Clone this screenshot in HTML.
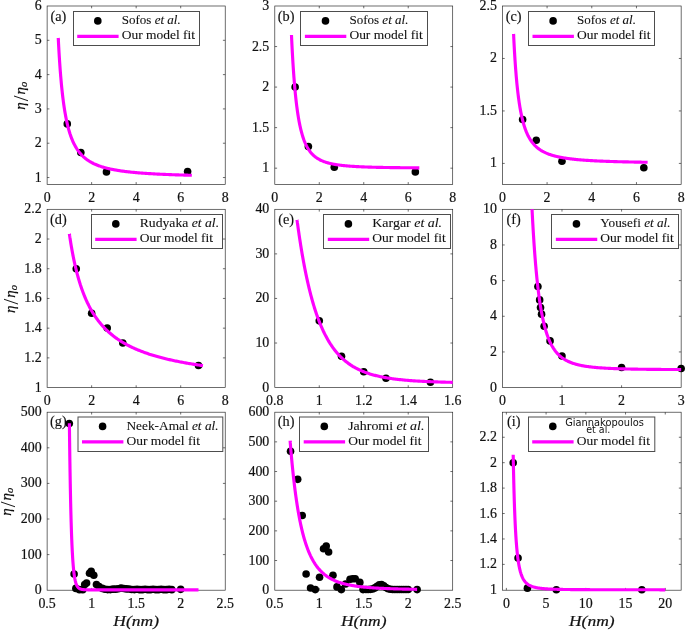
<!DOCTYPE html>
<html lang="en">
<head>
<meta charset="utf-8">
<title>Viscosity ratio versus channel height: data and model fits</title>
<style>
html,body{margin:0;padding:0;background:#fff;}
svg{display:block;}
text{white-space:pre;}
</style>
</head>
<body>
<svg width="685" height="630" viewBox="0 0 685 630">
<rect width="685" height="630" fill="#fff"/>
<g id="panel-a">
<rect x="47.12" y="6" width="178.1" height="178.4" fill="#fff" stroke="#262626" stroke-width="0.67"/>
<path d="M91.64 184.4v-2.3M91.64 6v2.3M136.17 184.4v-2.3M136.17 6v2.3M180.69 184.4v-2.3M180.69 6v2.3M47.12 177.54h2.3M225.22 177.54h-2.3M47.12 143.23h2.3M225.22 143.23h-2.3M47.12 108.92h2.3M225.22 108.92h-2.3M47.12 74.62h2.3M225.22 74.62h-2.3M47.12 40.31h2.3M225.22 40.31h-2.3" stroke="#262626" stroke-width="0.67" fill="none"/>
<g font-family='"Liberation Serif", serif' font-size="13.9" fill="#111" stroke="#111" stroke-width="0.2">
<g text-anchor="middle">
<text x="47.12" y="202">0</text>
<text x="91.64" y="202">2</text>
<text x="136.17" y="202">4</text>
<text x="180.69" y="202">6</text>
<text x="225.22" y="202">8</text>
</g><g text-anchor="end">
<text x="41.62" y="181.54">1</text>
<text x="41.62" y="147.23">2</text>
<text x="41.62" y="112.92">3</text>
<text x="41.62" y="78.62">4</text>
<text x="41.62" y="44.31">5</text>
<text x="41.62" y="10">6</text>
</g></g>
<text x="58.42" y="20.5" text-anchor="middle" font-family='"Liberation Serif", serif' font-size="14.3" fill="#111" stroke="#111" stroke-width="0.15">(a)</text>
<g fill="#000">
<circle cx="67.27" cy="123.92" r="3.8"/>
<circle cx="80.83" cy="152.56" r="3.8"/>
<circle cx="106.47" cy="171.88" r="3.8"/>
<circle cx="187.6" cy="171.57" r="3.8"/>
</g>
<path d="M58.25 37.94 L58.25 37.95 L58.25 38 L58.26 38.09 L58.26 38.22 L58.27 38.39 L58.28 38.61 L58.3 38.88 L58.31 39.2 L58.33 39.57 L58.35 39.99 L58.38 40.47 L58.41 40.99 L58.43 41.57 L58.47 42.19 L58.5 42.87 L58.54 43.6 L58.58 44.37 L58.63 45.2 L58.67 46.07 L58.72 46.99 L58.78 47.96 L58.83 48.97 L58.89 50.02 L58.96 51.11 L59.02 52.25 L59.09 53.42 L59.17 54.62 L59.24 55.87 L59.32 57.14 L59.41 58.45 L59.49 59.79 L59.58 61.15 L59.68 62.54 L59.77 63.95 L59.87 65.38 L59.98 66.83 L60.08 68.3 L60.19 69.79 L60.31 71.29 L60.43 72.8 L60.55 74.32 L60.67 75.84 L60.8 77.38 L60.93 78.92 L61.07 80.46 L61.21 82 L61.35 83.55 L61.5 85.09 L61.65 86.63 L61.8 88.16 L61.96 89.69 L62.12 91.21 L62.29 92.73 L62.46 94.23 L62.63 95.72 L62.81 97.21 L62.99 98.68 L63.18 100.13 L63.36 101.58 L63.56 103 L63.75 104.42 L63.95 105.81 L64.16 107.19 L64.37 108.55 L64.58 109.9 L64.79 111.23 L65.01 112.53 L65.24 113.82 L65.47 115.09 L65.7 116.34 L65.93 117.58 L66.17 118.79 L66.42 119.98 L66.67 121.15 L66.92 122.3 L67.18 123.44 L67.44 124.55 L67.7 125.64 L67.97 126.71 L68.24 127.76 L68.52 128.8 L68.8 129.81 L69.08 130.8 L69.37 131.78 L69.67 132.73 L69.96 133.67 L70.27 134.58 L70.57 135.48 L70.88 136.36 L71.2 137.23 L71.52 138.07 L71.84 138.9 L72.17 139.71 L72.5 140.5 L72.83 141.27 L73.17 142.03 L73.52 142.77 L73.86 143.5 L74.22 144.21 L74.57 144.9 L74.93 145.58 L75.3 146.25 L75.67 146.9 L76.04 147.53 L76.42 148.16 L76.81 148.76 L77.19 149.36 L77.58 149.94 L77.98 150.51 L78.38 151.06 L78.79 151.61 L79.2 152.14 L79.61 152.65 L80.03 153.16 L80.45 153.66 L80.88 154.14 L81.31 154.61 L81.74 155.08 L82.18 155.53 L82.63 155.97 L83.08 156.4 L83.53 156.83 L83.99 157.24 L84.45 157.64 L84.92 158.04 L85.39 158.42 L85.87 158.8 L86.35 159.17 L86.83 159.53 L87.32 159.88 L87.82 160.22 L88.32 160.56 L88.82 160.89 L89.33 161.21 L89.84 161.52 L90.36 161.83 L90.88 162.13 L91.4 162.43 L91.93 162.71 L92.47 162.99 L93.01 163.27 L93.55 163.54 L94.1 163.8 L94.66 164.06 L95.22 164.31 L95.78 164.55 L96.35 164.79 L96.92 165.03 L97.5 165.26 L98.08 165.48 L98.67 165.7 L99.26 165.92 L99.85 166.13 L100.45 166.33 L101.06 166.54 L101.67 166.73 L102.28 166.93 L102.9 167.12 L103.53 167.3 L104.15 167.48 L104.79 167.66 L105.43 167.83 L106.07 168 L106.72 168.17 L107.37 168.33 L108.03 168.49 L108.69 168.65 L109.36 168.8 L110.03 168.95 L110.7 169.1 L111.39 169.24 L112.07 169.38 L112.76 169.52 L113.46 169.65 L114.16 169.79 L114.86 169.92 L115.57 170.04 L116.29 170.17 L117.01 170.29 L117.73 170.41 L118.46 170.53 L119.2 170.64 L119.94 170.75 L120.68 170.86 L121.43 170.97 L122.18 171.08 L122.94 171.18 L123.7 171.28 L124.47 171.38 L125.25 171.48 L126.02 171.58 L126.81 171.67 L127.6 171.76 L128.39 171.85 L129.19 171.94 L129.99 172.03 L130.8 172.11 L131.61 172.2 L132.43 172.28 L133.25 172.36 L134.08 172.44 L134.91 172.52 L135.75 172.59 L136.59 172.67 L137.44 172.74 L138.29 172.81 L139.15 172.88 L140.01 172.95 L140.88 173.02 L141.75 173.09 L142.62 173.15 L143.51 173.22 L144.39 173.28 L145.29 173.34 L146.18 173.4 L147.09 173.46 L147.99 173.52 L148.91 173.58 L149.82 173.64 L150.75 173.69 L151.67 173.75 L152.61 173.8 L153.54 173.85 L154.49 173.91 L155.43 173.96 L156.39 174.01 L157.34 174.06 L158.31 174.11 L159.27 174.15 L160.25 174.2 L161.23 174.25 L162.21 174.29 L163.2 174.34 L164.19 174.38 L165.19 174.42 L166.19 174.46 L167.2 174.51 L168.22 174.55 L169.23 174.59 L170.26 174.63 L171.29 174.66 L172.32 174.7 L173.36 174.74 L174.41 174.78 L175.46 174.81 L176.51 174.85 L177.57 174.88 L178.64 174.92 L179.71 174.95 L180.78 174.99 L181.86 175.02 L182.95 175.05 L184.04 175.08 L185.14 175.11 L186.24 175.15 L187.35 175.18 L188.46 175.21 L189.58 175.23 L190.7 175.26 L191.83 175.29" fill="none" stroke="#ff00ff" stroke-width="3.15" stroke-linejoin="round"/>
<rect x="73.5" y="11.5" width="126" height="34" fill="#fff" stroke="#4d4d4d" stroke-width="1"/>
<circle cx="97.8" cy="20.9" r="3.8" fill="#000"/>
<path d="M77.2 36.4h41.4" stroke="#ff00ff" stroke-width="3.15" fill="none"/>
<text x="121.7" y="24.1" font-family='"Liberation Serif", serif' font-size="13.3" fill="#111" stroke="#111" stroke-width="0.1" textLength="59" lengthAdjust="spacingAndGlyphs">Sofos <tspan font-style="italic">et al.</tspan></text>
<text x="121.7" y="39.1" font-family='"Liberation Serif", serif' font-size="13.3" fill="#111" stroke="#111" stroke-width="0.1" textLength="73.4" lengthAdjust="spacingAndGlyphs">Our model fit</text>
<g transform="translate(24.82 109.8) rotate(-90)" font-family='"Liberation Serif", serif' font-style="italic" fill="#111" stroke="#111" stroke-width="0.2"><text x="0" y="0" font-size="15.0">η</text><text x="8.6" y="3.6" font-size="21" font-style="normal" stroke-width="0">/</text><text x="15.2" y="0" font-size="15.0">η</text><text x="22.9" y="2.5" font-size="10.5">o</text></g>
</g>
<g id="panel-b">
<rect x="274.8" y="6" width="177.9" height="178.4" fill="#fff" stroke="#262626" stroke-width="0.67"/>
<path d="M319.28 184.4v-2.3M319.28 6v2.3M363.75 184.4v-2.3M363.75 6v2.3M408.23 184.4v-2.3M408.23 6v2.3M274.8 168.18h2.3M452.7 168.18h-2.3M274.8 127.64h2.3M452.7 127.64h-2.3M274.8 87.09h2.3M452.7 87.09h-2.3M274.8 46.55h2.3M452.7 46.55h-2.3" stroke="#262626" stroke-width="0.67" fill="none"/>
<g font-family='"Liberation Serif", serif' font-size="13.9" fill="#111" stroke="#111" stroke-width="0.2">
<g text-anchor="middle">
<text x="274.8" y="202">0</text>
<text x="319.28" y="202">2</text>
<text x="363.75" y="202">4</text>
<text x="408.23" y="202">6</text>
<text x="452.7" y="202">8</text>
</g><g text-anchor="end">
<text x="269.3" y="172.18">1</text>
<text x="269.3" y="131.64">1.5</text>
<text x="269.3" y="91.09">2</text>
<text x="269.3" y="50.55">2.5</text>
<text x="269.3" y="10">3</text>
</g></g>
<text x="286.1" y="20.5" text-anchor="middle" font-family='"Liberation Serif", serif' font-size="14.3" fill="#111" stroke="#111" stroke-width="0.15">(b)</text>
<g fill="#000">
<circle cx="295.13" cy="86.93" r="3.8"/>
<circle cx="308.38" cy="146.53" r="3.8"/>
<circle cx="334.29" cy="167.13" r="3.8"/>
<circle cx="415.34" cy="171.91" r="3.8"/>
</g>
<path d="M291.48 35.03 L291.48 35.04 L291.48 35.09 L291.49 35.18 L291.49 35.32 L291.5 35.5 L291.51 35.74 L291.52 36.02 L291.54 36.36 L291.56 36.75 L291.58 37.19 L291.6 37.69 L291.63 38.24 L291.65 38.85 L291.68 39.51 L291.72 40.22 L291.76 40.99 L291.79 41.81 L291.84 42.69 L291.88 43.61 L291.93 44.59 L291.98 45.61 L292.04 46.68 L292.09 47.8 L292.15 48.96 L292.22 50.17 L292.28 51.41 L292.35 52.7 L292.43 54.03 L292.5 55.39 L292.58 56.78 L292.67 58.21 L292.75 59.67 L292.84 61.15 L292.93 62.66 L293.03 64.2 L293.13 65.76 L293.23 67.33 L293.34 68.93 L293.45 70.54 L293.56 72.16 L293.68 73.79 L293.8 75.44 L293.92 77.09 L294.05 78.74 L294.18 80.4 L294.31 82.06 L294.45 83.73 L294.59 85.38 L294.73 87.04 L294.88 88.69 L295.03 90.33 L295.19 91.97 L295.34 93.59 L295.51 95.21 L295.67 96.81 L295.84 98.4 L296.01 99.97 L296.19 101.53 L296.37 103.07 L296.56 104.59 L296.74 106.09 L296.94 107.58 L297.13 109.04 L297.33 110.48 L297.53 111.9 L297.74 113.3 L297.95 114.68 L298.17 116.03 L298.38 117.37 L298.61 118.67 L298.83 119.96 L299.06 121.22 L299.3 122.45 L299.53 123.66 L299.78 124.85 L300.02 126.01 L300.27 127.15 L300.52 128.26 L300.78 129.35 L301.04 130.41 L301.31 131.45 L301.58 132.47 L301.85 133.46 L302.13 134.43 L302.41 135.38 L302.69 136.3 L302.98 137.2 L303.27 138.08 L303.57 138.93 L303.87 139.77 L304.18 140.58 L304.48 141.37 L304.8 142.14 L305.11 142.89 L305.44 143.62 L305.76 144.33 L306.09 145.02 L306.42 145.7 L306.76 146.35 L307.1 146.99 L307.45 147.6 L307.8 148.21 L308.15 148.79 L308.51 149.36 L308.87 149.91 L309.24 150.44 L309.61 150.96 L309.99 151.47 L310.36 151.96 L310.75 152.44 L311.14 152.9 L311.53 153.35 L311.92 153.78 L312.32 154.21 L312.73 154.62 L313.14 155.01 L313.55 155.4 L313.97 155.78 L314.39 156.14 L314.81 156.49 L315.24 156.83 L315.68 157.17 L316.12 157.49 L316.56 157.8 L317.01 158.1 L317.46 158.4 L317.91 158.68 L318.37 158.96 L318.84 159.23 L319.31 159.49 L319.78 159.74 L320.26 159.98 L320.74 160.22 L321.23 160.45 L321.72 160.67 L322.21 160.89 L322.71 161.1 L323.21 161.3 L323.72 161.5 L324.23 161.69 L324.75 161.87 L325.27 162.05 L325.8 162.23 L326.33 162.4 L326.86 162.56 L327.4 162.72 L327.95 162.87 L328.49 163.02 L329.05 163.17 L329.6 163.31 L330.16 163.44 L330.73 163.57 L331.3 163.7 L331.88 163.83 L332.46 163.95 L333.04 164.06 L333.63 164.18 L334.22 164.29 L334.82 164.39 L335.42 164.5 L336.03 164.6 L336.64 164.7 L337.25 164.79 L337.87 164.88 L338.5 164.97 L339.13 165.06 L339.76 165.14 L340.4 165.22 L341.04 165.3 L341.69 165.38 L342.34 165.45 L343 165.53 L343.66 165.6 L344.33 165.67 L345 165.73 L345.67 165.8 L346.35 165.86 L347.03 165.92 L347.72 165.98 L348.42 166.04 L349.12 166.09 L349.82 166.14 L350.53 166.2 L351.24 166.25 L351.96 166.3 L352.68 166.35 L353.4 166.39 L354.13 166.44 L354.87 166.48 L355.61 166.53 L356.35 166.57 L357.1 166.61 L357.86 166.65 L358.62 166.69 L359.38 166.72 L360.15 166.76 L360.92 166.79 L361.7 166.83 L362.48 166.86 L363.27 166.89 L364.06 166.93 L364.86 166.96 L365.66 166.99 L366.47 167.02 L367.28 167.04 L368.09 167.07 L368.91 167.1 L369.74 167.12 L370.57 167.15 L371.41 167.17 L372.25 167.2 L373.09 167.22 L373.94 167.24 L374.79 167.27 L375.65 167.29 L376.52 167.31 L377.38 167.33 L378.26 167.35 L379.14 167.37 L380.02 167.39 L380.91 167.4 L381.8 167.42 L382.7 167.44 L383.6 167.46 L384.51 167.47 L385.42 167.49 L386.34 167.51 L387.26 167.52 L388.18 167.54 L389.11 167.55 L390.05 167.56 L390.99 167.58 L391.94 167.59 L392.89 167.6 L393.85 167.62 L394.81 167.63 L395.77 167.64 L396.74 167.65 L397.72 167.67 L398.7 167.68 L399.68 167.69 L400.67 167.7 L401.67 167.71 L402.67 167.72 L403.67 167.73 L404.68 167.74 L405.7 167.75 L406.72 167.76 L407.74 167.77 L408.77 167.78 L409.81 167.78 L410.85 167.79 L411.89 167.8 L412.94 167.81 L414 167.82 L415.06 167.82 L416.12 167.83 L417.19 167.84 L418.26 167.85 L419.34 167.85" fill="none" stroke="#ff00ff" stroke-width="3.15" stroke-linejoin="round"/>
<rect x="300.5" y="11.5" width="127" height="34" fill="#fff" stroke="#4d4d4d" stroke-width="1"/>
<circle cx="325.5" cy="20.9" r="3.8" fill="#000"/>
<path d="M304.9 36.4h41.4" stroke="#ff00ff" stroke-width="3.15" fill="none"/>
<text x="349.4" y="24.1" font-family='"Liberation Serif", serif' font-size="13.3" fill="#111" stroke="#111" stroke-width="0.1" textLength="59" lengthAdjust="spacingAndGlyphs">Sofos <tspan font-style="italic">et al.</tspan></text>
<text x="349.4" y="39.1" font-family='"Liberation Serif", serif' font-size="13.3" fill="#111" stroke="#111" stroke-width="0.1" textLength="73.4" lengthAdjust="spacingAndGlyphs">Our model fit</text>
</g>
<g id="panel-c">
<rect x="502.4" y="6" width="178.75" height="178.4" fill="#fff" stroke="#262626" stroke-width="0.67"/>
<path d="M547.09 184.4v-2.3M547.09 6v2.3M591.77 184.4v-2.3M591.77 6v2.3M636.46 184.4v-2.3M636.46 6v2.3M502.4 163.41h2.3M681.15 163.41h-2.3M502.4 110.94h2.3M681.15 110.94h-2.3M502.4 58.47h2.3M681.15 58.47h-2.3" stroke="#262626" stroke-width="0.67" fill="none"/>
<g font-family='"Liberation Serif", serif' font-size="13.9" fill="#111" stroke="#111" stroke-width="0.2">
<g text-anchor="middle">
<text x="502.4" y="202">0</text>
<text x="547.09" y="202">2</text>
<text x="591.77" y="202">4</text>
<text x="636.46" y="202">6</text>
<text x="681.15" y="202">8</text>
</g><g text-anchor="end">
<text x="496.9" y="167.41">1</text>
<text x="496.9" y="114.94">1.5</text>
<text x="496.9" y="62.47">2</text>
<text x="496.9" y="10">2.5</text>
</g></g>
<text x="513.7" y="20.5" text-anchor="middle" font-family='"Liberation Serif", serif' font-size="14.3" fill="#111" stroke="#111" stroke-width="0.15">(c)</text>
<g fill="#000">
<circle cx="522.62" cy="119.55" r="3.8"/>
<circle cx="536.23" cy="140.32" r="3.8"/>
<circle cx="561.97" cy="161.31" r="3.8"/>
<circle cx="643.84" cy="167.82" r="3.8"/>
</g>
<path d="M513.57 33.94 L513.57 33.95 L513.57 34 L513.58 34.1 L513.59 34.23 L513.59 34.42 L513.61 34.66 L513.62 34.94 L513.64 35.29 L513.65 35.68 L513.68 36.13 L513.7 36.63 L513.73 37.19 L513.76 37.8 L513.79 38.46 L513.82 39.18 L513.86 39.95 L513.9 40.77 L513.95 41.65 L514 42.57 L514.05 43.54 L514.1 44.56 L514.16 45.62 L514.22 46.73 L514.28 47.88 L514.35 49.07 L514.42 50.3 L514.49 51.56 L514.57 52.86 L514.65 54.2 L514.73 55.56 L514.82 56.95 L514.91 58.36 L515 59.8 L515.1 61.26 L515.2 62.74 L515.3 64.24 L515.41 65.75 L515.52 67.28 L515.64 68.81 L515.75 70.36 L515.88 71.91 L516 73.46 L516.13 75.02 L516.26 76.58 L516.4 78.14 L516.54 79.7 L516.68 81.25 L516.83 82.8 L516.98 84.34 L517.14 85.87 L517.3 87.39 L517.46 88.91 L517.62 90.41 L517.79 91.89 L517.97 93.37 L518.15 94.82 L518.33 96.26 L518.51 97.69 L518.7 99.09 L518.9 100.48 L519.09 101.85 L519.29 103.2 L519.5 104.53 L519.71 105.84 L519.92 107.13 L520.14 108.39 L520.36 109.64 L520.58 110.86 L520.81 112.07 L521.05 113.25 L521.28 114.41 L521.52 115.54 L521.77 116.66 L522.02 117.75 L522.27 118.82 L522.53 119.87 L522.79 120.9 L523.06 121.9 L523.33 122.89 L523.6 123.85 L523.88 124.79 L524.16 125.71 L524.44 126.62 L524.73 127.5 L525.03 128.36 L525.33 129.2 L525.63 130.02 L525.94 130.82 L526.25 131.6 L526.56 132.37 L526.88 133.11 L527.21 133.84 L527.54 134.55 L527.87 135.25 L528.21 135.92 L528.55 136.58 L528.89 137.23 L529.24 137.85 L529.6 138.47 L529.95 139.06 L530.32 139.64 L530.68 140.21 L531.05 140.77 L531.43 141.3 L531.81 141.83 L532.19 142.34 L532.58 142.84 L532.98 143.33 L533.37 143.8 L533.78 144.27 L534.18 144.72 L534.59 145.16 L535.01 145.58 L535.43 146 L535.85 146.41 L536.28 146.8 L536.71 147.19 L537.15 147.56 L537.59 147.93 L538.04 148.29 L538.49 148.64 L538.94 148.97 L539.4 149.3 L539.87 149.63 L540.34 149.94 L540.81 150.25 L541.29 150.54 L541.77 150.83 L542.26 151.12 L542.75 151.39 L543.24 151.66 L543.75 151.92 L544.25 152.18 L544.76 152.43 L545.27 152.67 L545.79 152.91 L546.32 153.14 L546.85 153.36 L547.38 153.58 L547.92 153.8 L548.46 154 L549 154.21 L549.56 154.41 L550.11 154.6 L550.67 154.79 L551.24 154.97 L551.81 155.15 L552.38 155.33 L552.96 155.5 L553.54 155.66 L554.13 155.82 L554.73 155.98 L555.32 156.14 L555.93 156.29 L556.53 156.44 L557.15 156.58 L557.76 156.72 L558.39 156.86 L559.01 156.99 L559.64 157.12 L560.28 157.25 L560.92 157.37 L561.56 157.49 L562.22 157.61 L562.87 157.73 L563.53 157.84 L564.19 157.95 L564.86 158.06 L565.54 158.16 L566.22 158.27 L566.9 158.37 L567.59 158.47 L568.28 158.56 L568.98 158.66 L569.68 158.75 L570.39 158.84 L571.1 158.92 L571.82 159.01 L572.54 159.09 L573.27 159.17 L574 159.25 L574.74 159.33 L575.48 159.41 L576.23 159.48 L576.98 159.56 L577.74 159.63 L578.5 159.7 L579.26 159.77 L580.04 159.83 L580.81 159.9 L581.59 159.96 L582.38 160.02 L583.17 160.09 L583.96 160.15 L584.77 160.2 L585.57 160.26 L586.38 160.32 L587.2 160.37 L588.02 160.43 L588.84 160.48 L589.67 160.53 L590.51 160.58 L591.35 160.63 L592.2 160.68 L593.05 160.73 L593.9 160.77 L594.76 160.82 L595.63 160.86 L596.5 160.9 L597.37 160.95 L598.25 160.99 L599.14 161.03 L600.03 161.07 L600.92 161.11 L601.83 161.15 L602.73 161.19 L603.64 161.22 L604.56 161.26 L605.48 161.29 L606.4 161.33 L607.33 161.36 L608.27 161.4 L609.21 161.43 L610.16 161.46 L611.11 161.49 L612.06 161.52 L613.03 161.55 L613.99 161.58 L614.96 161.61 L615.94 161.64 L616.92 161.67 L617.91 161.7 L618.9 161.72 L619.9 161.75 L620.9 161.78 L621.91 161.8 L622.92 161.83 L623.94 161.85 L624.96 161.87 L625.99 161.9 L627.02 161.92 L628.06 161.94 L629.1 161.97 L630.15 161.99 L631.21 162.01 L632.26 162.03 L633.33 162.05 L634.4 162.07 L635.47 162.09 L636.55 162.11 L637.64 162.13 L638.73 162.15 L639.82 162.17 L640.92 162.19 L642.03 162.2 L643.14 162.22 L644.25 162.24 L645.38 162.26 L646.5 162.27 L647.63 162.29" fill="none" stroke="#ff00ff" stroke-width="3.15" stroke-linejoin="round"/>
<rect x="528.5" y="11.5" width="126" height="34" fill="#fff" stroke="#4d4d4d" stroke-width="1"/>
<circle cx="553.1" cy="20.9" r="3.8" fill="#000"/>
<path d="M532.5 36.4h41.4" stroke="#ff00ff" stroke-width="3.15" fill="none"/>
<text x="577" y="24.1" font-family='"Liberation Serif", serif' font-size="13.3" fill="#111" stroke="#111" stroke-width="0.1" textLength="59" lengthAdjust="spacingAndGlyphs">Sofos <tspan font-style="italic">et al.</tspan></text>
<text x="577" y="39.1" font-family='"Liberation Serif", serif' font-size="13.3" fill="#111" stroke="#111" stroke-width="0.1" textLength="73.4" lengthAdjust="spacingAndGlyphs">Our model fit</text>
</g>
<g id="panel-d">
<rect x="47.12" y="209.3" width="178.1" height="178.3" fill="#fff" stroke="#262626" stroke-width="0.67"/>
<path d="M91.64 387.6v-2.3M91.64 209.3v2.3M136.17 387.6v-2.3M136.17 209.3v2.3M180.69 387.6v-2.3M180.69 209.3v2.3M47.12 357.88h2.3M225.22 357.88h-2.3M47.12 328.17h2.3M225.22 328.17h-2.3M47.12 298.45h2.3M225.22 298.45h-2.3M47.12 268.73h2.3M225.22 268.73h-2.3M47.12 239.02h2.3M225.22 239.02h-2.3" stroke="#262626" stroke-width="0.67" fill="none"/>
<g font-family='"Liberation Serif", serif' font-size="13.9" fill="#111" stroke="#111" stroke-width="0.2">
<g text-anchor="middle">
<text x="47.12" y="405.2">0</text>
<text x="91.64" y="405.2">2</text>
<text x="136.17" y="405.2">4</text>
<text x="180.69" y="405.2">6</text>
<text x="225.22" y="405.2">8</text>
</g><g text-anchor="end">
<text x="41.62" y="391.6">1</text>
<text x="41.62" y="361.88">1.2</text>
<text x="41.62" y="332.17">1.4</text>
<text x="41.62" y="302.45">1.6</text>
<text x="41.62" y="272.73">1.8</text>
<text x="41.62" y="243.02">2</text>
<text x="41.62" y="213.3">2.2</text>
</g></g>
<text x="58.42" y="223.8" text-anchor="middle" font-family='"Liberation Serif", serif' font-size="14.3" fill="#111" stroke="#111" stroke-width="0.15">(d)</text>
<g fill="#000">
<circle cx="76.24" cy="268.73" r="3.8"/>
<circle cx="91.64" cy="313.31" r="3.8"/>
<circle cx="107.23" cy="328.02" r="3.8"/>
<circle cx="122.81" cy="343.03" r="3.8"/>
<circle cx="198.5" cy="365.54" r="3.8"/>
</g>
<path d="M69.38 233.96 L69.38 233.97 L69.39 233.99 L69.39 234.02 L69.4 234.06 L69.4 234.12 L69.42 234.2 L69.43 234.29 L69.45 234.4 L69.46 234.53 L69.49 234.67 L69.51 234.84 L69.54 235.02 L69.57 235.22 L69.6 235.44 L69.63 235.68 L69.67 235.94 L69.71 236.22 L69.76 236.51 L69.81 236.83 L69.86 237.16 L69.91 237.52 L69.97 237.89 L70.03 238.28 L70.09 238.69 L70.16 239.12 L70.23 239.57 L70.3 240.03 L70.37 240.52 L70.45 241.02 L70.54 241.54 L70.62 242.08 L70.71 242.63 L70.81 243.2 L70.9 243.79 L71 244.39 L71.11 245.01 L71.21 245.64 L71.32 246.29 L71.44 246.96 L71.56 247.63 L71.68 248.33 L71.8 249.03 L71.93 249.75 L72.06 250.48 L72.2 251.22 L72.34 251.98 L72.48 252.74 L72.63 253.52 L72.78 254.31 L72.93 255.11 L73.09 255.91 L73.25 256.73 L73.42 257.55 L73.59 258.39 L73.76 259.23 L73.94 260.08 L74.12 260.93 L74.31 261.79 L74.5 262.66 L74.69 263.53 L74.88 264.41 L75.08 265.29 L75.29 266.18 L75.5 267.07 L75.71 267.96 L75.93 268.86 L76.15 269.76 L76.37 270.67 L76.6 271.57 L76.83 272.48 L77.07 273.38 L77.31 274.29 L77.55 275.2 L77.8 276.11 L78.05 277.02 L78.31 277.93 L78.57 278.84 L78.83 279.74 L79.1 280.65 L79.37 281.55 L79.65 282.46 L79.93 283.36 L80.22 284.25 L80.5 285.15 L80.8 286.04 L81.1 286.93 L81.4 287.82 L81.7 288.7 L82.01 289.58 L82.33 290.45 L82.65 291.33 L82.97 292.19 L83.3 293.05 L83.63 293.91 L83.96 294.77 L84.3 295.61 L84.65 296.46 L85 297.3 L85.35 298.13 L85.7 298.96 L86.07 299.78 L86.43 300.6 L86.8 301.41 L87.18 302.21 L87.55 303.01 L87.94 303.8 L88.32 304.59 L88.72 305.37 L89.11 306.15 L89.51 306.92 L89.92 307.68 L90.33 308.44 L90.74 309.19 L91.16 309.93 L91.58 310.67 L92.01 311.4 L92.44 312.13 L92.87 312.85 L93.31 313.56 L93.76 314.27 L94.21 314.96 L94.66 315.66 L95.12 316.34 L95.58 317.02 L96.05 317.7 L96.52 318.37 L97 319.03 L97.48 319.68 L97.96 320.33 L98.45 320.97 L98.95 321.61 L99.45 322.24 L99.95 322.86 L100.46 323.47 L100.97 324.08 L101.49 324.69 L102.01 325.29 L102.54 325.88 L103.07 326.46 L103.6 327.04 L104.14 327.62 L104.69 328.18 L105.24 328.75 L105.79 329.3 L106.35 329.85 L106.91 330.4 L107.48 330.93 L108.05 331.47 L108.63 331.99 L109.21 332.51 L109.8 333.03 L110.39 333.54 L110.98 334.04 L111.58 334.54 L112.19 335.04 L112.8 335.52 L113.41 336.01 L114.03 336.48 L114.66 336.96 L115.29 337.42 L115.92 337.89 L116.56 338.34 L117.2 338.8 L117.85 339.24 L118.5 339.68 L119.16 340.12 L119.82 340.55 L120.49 340.98 L121.16 341.4 L121.84 341.82 L122.52 342.24 L123.2 342.65 L123.89 343.05 L124.59 343.45 L125.29 343.85 L125.99 344.24 L126.7 344.62 L127.42 345.01 L128.14 345.38 L128.86 345.76 L129.59 346.13 L130.33 346.49 L131.07 346.86 L131.81 347.21 L132.56 347.57 L133.31 347.92 L134.07 348.26 L134.84 348.61 L135.6 348.95 L136.38 349.28 L137.16 349.61 L137.94 349.94 L138.73 350.26 L139.52 350.58 L140.32 350.9 L141.12 351.21 L141.93 351.52 L142.74 351.83 L143.56 352.13 L144.38 352.43 L145.21 352.73 L146.04 353.02 L146.88 353.31 L147.72 353.6 L148.57 353.88 L149.42 354.17 L150.28 354.44 L151.14 354.72 L152.01 354.99 L152.88 355.26 L153.76 355.53 L154.64 355.79 L155.53 356.05 L156.42 356.31 L157.31 356.56 L158.22 356.81 L159.12 357.06 L160.04 357.31 L160.95 357.55 L161.88 357.8 L162.8 358.03 L163.74 358.27 L164.67 358.5 L165.62 358.74 L166.56 358.96 L167.52 359.19 L168.47 359.42 L169.44 359.64 L170.41 359.86 L171.38 360.07 L172.36 360.29 L173.34 360.5 L174.33 360.71 L175.32 360.92 L176.32 361.13 L177.32 361.33 L178.33 361.53 L179.35 361.73 L180.37 361.93 L181.39 362.13 L182.42 362.32 L183.45 362.51 L184.49 362.7 L185.54 362.89 L186.59 363.08 L187.64 363.26 L188.7 363.44 L189.77 363.62 L190.84 363.8 L191.92 363.98 L193 364.15 L194.08 364.33 L195.17 364.5 L196.27 364.67 L197.37 364.84 L198.48 365 L199.59 365.17 L200.71 365.33 L201.83 365.49 L202.96 365.65" fill="none" stroke="#ff00ff" stroke-width="3.15" stroke-linejoin="round"/>
<rect x="91.5" y="214.5" width="131" height="34" fill="#fff" stroke="#4d4d4d" stroke-width="1"/>
<circle cx="115.8" cy="223.9" r="3.8" fill="#000"/>
<path d="M95.2 239.4h41.4" stroke="#ff00ff" stroke-width="3.15" fill="none"/>
<text x="139.7" y="227.1" font-family='"Liberation Serif", serif' font-size="13.3" fill="#111" stroke="#111" stroke-width="0.1" textLength="79.4" lengthAdjust="spacingAndGlyphs">Rudyaka <tspan font-style="italic">et al.</tspan></text>
<text x="139.7" y="242.1" font-family='"Liberation Serif", serif' font-size="13.3" fill="#111" stroke="#111" stroke-width="0.1" textLength="73.4" lengthAdjust="spacingAndGlyphs">Our model fit</text>
<g transform="translate(14.52 313.05) rotate(-90)" font-family='"Liberation Serif", serif' font-style="italic" fill="#111" stroke="#111" stroke-width="0.2"><text x="0" y="0" font-size="15.0">η</text><text x="8.6" y="3.6" font-size="21" font-style="normal" stroke-width="0">/</text><text x="15.2" y="0" font-size="15.0">η</text><text x="22.9" y="2.5" font-size="10.5">o</text></g>
</g>
<g id="panel-e">
<rect x="274.8" y="209.3" width="177.9" height="178.3" fill="#fff" stroke="#262626" stroke-width="0.67"/>
<path d="M319.27 387.6v-2.3M319.27 209.3v2.3M363.75 387.6v-2.3M363.75 209.3v2.3M408.23 387.6v-2.3M408.23 209.3v2.3M274.8 343.03h2.3M452.7 343.03h-2.3M274.8 298.45h2.3M452.7 298.45h-2.3M274.8 253.88h2.3M452.7 253.88h-2.3" stroke="#262626" stroke-width="0.67" fill="none"/>
<g font-family='"Liberation Serif", serif' font-size="13.9" fill="#111" stroke="#111" stroke-width="0.2">
<g text-anchor="middle">
<text x="274.8" y="405.2">0.8</text>
<text x="319.27" y="405.2">1</text>
<text x="363.75" y="405.2">1.2</text>
<text x="408.23" y="405.2">1.4</text>
<text x="452.7" y="405.2">1.6</text>
</g><g text-anchor="end">
<text x="269.3" y="391.6">0</text>
<text x="269.3" y="347.03">10</text>
<text x="269.3" y="302.45">20</text>
<text x="269.3" y="257.88">30</text>
<text x="269.3" y="213.3">40</text>
</g></g>
<text x="286.1" y="223.8" text-anchor="middle" font-family='"Liberation Serif", serif' font-size="14.3" fill="#111" stroke="#111" stroke-width="0.15">(e)</text>
<g fill="#000">
<circle cx="319.27" cy="320.87" r="3.8"/>
<circle cx="341.51" cy="356.26" r="3.8"/>
<circle cx="363.75" cy="371.73" r="3.8"/>
<circle cx="385.99" cy="378.24" r="3.8"/>
<circle cx="430.46" cy="382.21" r="3.8"/>
</g>
<path d="M297.04 220.01 L297.04 220.02 L297.04 220.04 L297.05 220.07 L297.05 220.13 L297.06 220.21 L297.08 220.3 L297.09 220.42 L297.11 220.56 L297.13 220.73 L297.16 220.91 L297.19 221.12 L297.22 221.35 L297.25 221.61 L297.29 221.89 L297.33 222.2 L297.38 222.53 L297.42 222.89 L297.47 223.27 L297.53 223.68 L297.59 224.11 L297.65 224.57 L297.72 225.05 L297.79 225.56 L297.86 226.09 L297.94 226.65 L298.02 227.23 L298.1 227.84 L298.19 228.47 L298.29 229.13 L298.38 229.81 L298.48 230.52 L298.59 231.25 L298.7 232.01 L298.81 232.78 L298.93 233.59 L299.05 234.41 L299.17 235.26 L299.3 236.13 L299.43 237.02 L299.57 237.93 L299.71 238.86 L299.86 239.82 L300.01 240.8 L300.16 241.79 L300.32 242.81 L300.48 243.84 L300.65 244.89 L300.82 245.96 L301 247.05 L301.18 248.15 L301.36 249.28 L301.55 250.41 L301.74 251.57 L301.94 252.73 L302.14 253.92 L302.35 255.11 L302.56 256.32 L302.78 257.55 L303 258.78 L303.22 260.03 L303.45 261.28 L303.68 262.55 L303.92 263.83 L304.16 265.11 L304.41 266.41 L304.66 267.71 L304.92 269.02 L305.18 270.33 L305.45 271.66 L305.72 272.99 L305.99 274.32 L306.27 275.66 L306.56 277 L306.84 278.34 L307.14 279.69 L307.44 281.04 L307.74 282.39 L308.05 283.74 L308.36 285.1 L308.68 286.45 L309 287.8 L309.33 289.15 L309.66 290.5 L310 291.85 L310.34 293.19 L310.69 294.53 L311.04 295.87 L311.4 297.2 L311.76 298.53 L312.12 299.85 L312.49 301.17 L312.87 302.48 L313.25 303.78 L313.64 305.08 L314.03 306.37 L314.43 307.66 L314.83 308.93 L315.23 310.2 L315.64 311.46 L316.06 312.7 L316.48 313.94 L316.91 315.17 L317.34 316.39 L317.77 317.6 L318.21 318.8 L318.66 319.99 L319.11 321.16 L319.57 322.33 L320.03 323.48 L320.5 324.63 L320.97 325.76 L321.44 326.87 L321.93 327.98 L322.41 329.07 L322.91 330.15 L323.4 331.22 L323.91 332.27 L324.41 333.31 L324.93 334.34 L325.45 335.35 L325.97 336.35 L326.5 337.34 L327.03 338.31 L327.57 339.27 L328.11 340.22 L328.66 341.15 L329.22 342.07 L329.78 342.98 L330.34 343.87 L330.92 344.74 L331.49 345.61 L332.07 346.46 L332.66 347.29 L333.25 348.11 L333.85 348.92 L334.45 349.72 L335.06 350.5 L335.67 351.27 L336.29 352.02 L336.91 352.76 L337.54 353.49 L338.18 354.2 L338.82 354.9 L339.46 355.59 L340.12 356.26 L340.77 356.93 L341.43 357.57 L342.1 358.21 L342.77 358.83 L343.45 359.45 L344.13 360.04 L344.82 360.63 L345.52 361.21 L346.22 361.77 L346.92 362.32 L347.63 362.86 L348.35 363.39 L349.07 363.91 L349.8 364.41 L350.53 364.91 L351.27 365.39 L352.01 365.86 L352.76 366.33 L353.52 366.78 L354.28 367.22 L355.04 367.65 L355.82 368.07 L356.59 368.48 L357.38 368.89 L358.16 369.28 L358.96 369.66 L359.76 370.04 L360.56 370.4 L361.37 370.76 L362.19 371.11 L363.01 371.45 L363.84 371.78 L364.67 372.1 L365.51 372.42 L366.35 372.72 L367.2 373.02 L368.06 373.31 L368.92 373.6 L369.79 373.88 L370.66 374.14 L371.54 374.41 L372.42 374.66 L373.31 374.91 L374.21 375.16 L375.11 375.39 L376.02 375.62 L376.93 375.84 L377.85 376.06 L378.77 376.27 L379.7 376.48 L380.64 376.68 L381.58 376.88 L382.53 377.07 L383.48 377.25 L384.44 377.43 L385.4 377.6 L386.37 377.77 L387.35 377.94 L388.33 378.1 L389.32 378.25 L390.31 378.4 L391.31 378.55 L392.31 378.69 L393.32 378.83 L394.34 378.97 L395.36 379.1 L396.39 379.22 L397.42 379.35 L398.46 379.46 L399.51 379.58 L400.56 379.69 L401.62 379.8 L402.68 379.91 L403.75 380.01 L404.83 380.11 L405.91 380.21 L406.99 380.3 L408.09 380.39 L409.18 380.48 L410.29 380.57 L411.4 380.65 L412.52 380.73 L413.64 380.81 L414.77 380.88 L415.9 380.96 L417.04 381.03 L418.19 381.1 L419.34 381.16 L420.5 381.23 L421.66 381.29 L422.83 381.35 L424 381.41 L425.19 381.47 L426.37 381.52 L427.57 381.57 L428.77 381.63 L429.97 381.68 L431.18 381.72 L432.4 381.77 L433.62 381.82 L434.85 381.86 L436.09 381.9 L437.33 381.94 L438.58 381.98 L439.83 382.02 L441.09 382.06 L442.36 382.1 L443.63 382.13 L444.91 382.16 L446.19 382.2 L447.48 382.23 L448.78 382.26 L450.08 382.29 L451.39 382.32 L452.7 382.35" fill="none" stroke="#ff00ff" stroke-width="3.15" stroke-linejoin="round"/>
<rect x="323.5" y="214.5" width="127" height="34" fill="#fff" stroke="#4d4d4d" stroke-width="1"/>
<circle cx="348.4" cy="223.9" r="3.8" fill="#000"/>
<path d="M327.8 239.4h41.4" stroke="#ff00ff" stroke-width="3.15" fill="none"/>
<text x="372.3" y="227.1" font-family='"Liberation Serif", serif' font-size="13.3" fill="#111" stroke="#111" stroke-width="0.1" textLength="69.8" lengthAdjust="spacingAndGlyphs">Kargar <tspan font-style="italic">et al.</tspan></text>
<text x="372.3" y="242.1" font-family='"Liberation Serif", serif' font-size="13.3" fill="#111" stroke="#111" stroke-width="0.1" textLength="73.4" lengthAdjust="spacingAndGlyphs">Our model fit</text>
</g>
<g id="panel-f">
<rect x="502.4" y="209.3" width="178.75" height="178.3" fill="#fff" stroke="#262626" stroke-width="0.67"/>
<path d="M561.98 387.6v-2.3M561.98 209.3v2.3M621.57 387.6v-2.3M621.57 209.3v2.3M502.4 351.94h2.3M681.15 351.94h-2.3M502.4 316.28h2.3M681.15 316.28h-2.3M502.4 280.62h2.3M681.15 280.62h-2.3M502.4 244.96h2.3M681.15 244.96h-2.3" stroke="#262626" stroke-width="0.67" fill="none"/>
<g font-family='"Liberation Serif", serif' font-size="13.9" fill="#111" stroke="#111" stroke-width="0.2">
<g text-anchor="middle">
<text x="502.4" y="405.2">0</text>
<text x="561.98" y="405.2">1</text>
<text x="621.57" y="405.2">2</text>
<text x="681.15" y="405.2">3</text>
</g><g text-anchor="end">
<text x="496.9" y="391.6">0</text>
<text x="496.9" y="355.94">2</text>
<text x="496.9" y="320.28">4</text>
<text x="496.9" y="284.62">6</text>
<text x="496.9" y="248.96">8</text>
<text x="496.9" y="213.3">10</text>
</g></g>
<text x="513.7" y="223.8" text-anchor="middle" font-family='"Liberation Serif", serif' font-size="14.3" fill="#111" stroke="#111" stroke-width="0.15">(f)</text>
<g fill="#000">
<circle cx="537.91" cy="286.5" r="3.8"/>
<circle cx="539.64" cy="299.88" r="3.8"/>
<circle cx="540.53" cy="307.54" r="3.8"/>
<circle cx="541.55" cy="314.14" r="3.8"/>
<circle cx="544.11" cy="326.26" r="3.8"/>
<circle cx="550.07" cy="340.89" r="3.8"/>
<circle cx="561.98" cy="356.04" r="3.8"/>
<circle cx="621.57" cy="367.45" r="3.8"/>
<circle cx="681.15" cy="368.52" r="3.8"/>
</g>
<path d="M532.04 209.25 L532.04 209.27 L532.05 209.32 L532.05 209.41 L532.06 209.56 L532.07 209.75 L532.08 210 L532.1 210.3 L532.11 210.65 L532.13 211.06 L532.16 211.53 L532.18 212.06 L532.21 212.64 L532.25 213.29 L532.28 213.99 L532.32 214.75 L532.37 215.57 L532.41 216.44 L532.46 217.37 L532.51 218.36 L532.57 219.41 L532.63 220.5 L532.69 221.66 L532.76 222.86 L532.83 224.12 L532.91 225.42 L532.98 226.78 L533.06 228.18 L533.15 229.62 L533.24 231.11 L533.33 232.64 L533.43 234.21 L533.53 235.82 L533.63 237.46 L533.74 239.14 L533.85 240.85 L533.97 242.59 L534.09 244.36 L534.21 246.15 L534.34 247.96 L534.47 249.8 L534.61 251.66 L534.74 253.53 L534.89 255.42 L535.04 257.32 L535.19 259.24 L535.34 261.16 L535.5 263.09 L535.67 265.02 L535.84 266.96 L536.01 268.9 L536.18 270.83 L536.37 272.77 L536.55 274.7 L536.74 276.62 L536.93 278.54 L537.13 280.45 L537.33 282.34 L537.54 284.23 L537.75 286.1 L537.97 287.95 L538.18 289.79 L538.41 291.62 L538.64 293.42 L538.87 295.21 L539.11 296.97 L539.35 298.71 L539.59 300.44 L539.84 302.13 L540.1 303.81 L540.36 305.46 L540.62 307.08 L540.89 308.68 L541.16 310.26 L541.44 311.81 L541.72 313.33 L542 314.82 L542.3 316.29 L542.59 317.73 L542.89 319.14 L543.19 320.52 L543.5 321.88 L543.82 323.21 L544.14 324.51 L544.46 325.78 L544.79 327.02 L545.12 328.24 L545.45 329.43 L545.8 330.59 L546.14 331.73 L546.49 332.84 L546.85 333.92 L547.21 334.97 L547.57 336 L547.94 337 L548.32 337.98 L548.7 338.94 L549.08 339.86 L549.47 340.77 L549.86 341.65 L550.26 342.5 L550.67 343.34 L551.07 344.15 L551.49 344.94 L551.91 345.7 L552.33 346.45 L552.76 347.17 L553.19 347.88 L553.62 348.56 L554.07 349.22 L554.51 349.87 L554.97 350.49 L555.42 351.1 L555.88 351.69 L556.35 352.26 L556.82 352.82 L557.3 353.35 L557.78 353.88 L558.27 354.38 L558.76 354.87 L559.25 355.35 L559.76 355.81 L560.26 356.26 L560.77 356.69 L561.29 357.11 L561.81 357.52 L562.34 357.91 L562.87 358.29 L563.41 358.66 L563.95 359.02 L564.49 359.36 L565.05 359.7 L565.6 360.02 L566.16 360.34 L566.73 360.64 L567.3 360.93 L567.88 361.22 L568.46 361.49 L569.05 361.76 L569.64 362.02 L570.24 362.27 L570.84 362.51 L571.45 362.74 L572.06 362.97 L572.68 363.19 L573.31 363.4 L573.93 363.61 L574.57 363.8 L575.21 363.99 L575.85 364.18 L576.5 364.36 L577.16 364.53 L577.82 364.7 L578.48 364.86 L579.15 365.02 L579.83 365.17 L580.51 365.32 L581.19 365.46 L581.89 365.6 L582.58 365.73 L583.28 365.86 L583.99 365.98 L584.7 366.1 L585.42 366.22 L586.14 366.33 L586.87 366.44 L587.61 366.54 L588.35 366.64 L589.09 366.74 L589.84 366.84 L590.6 366.93 L591.36 367.02 L592.12 367.1 L592.89 367.19 L593.67 367.27 L594.45 367.34 L595.24 367.42 L596.03 367.49 L596.83 367.56 L597.63 367.63 L598.44 367.7 L599.26 367.76 L600.07 367.82 L600.9 367.88 L601.73 367.94 L602.57 368 L603.41 368.05 L604.25 368.1 L605.11 368.15 L605.96 368.2 L606.83 368.25 L607.7 368.3 L608.57 368.34 L609.45 368.38 L610.34 368.42 L611.23 368.46 L612.12 368.5 L613.02 368.54 L613.93 368.58 L614.84 368.61 L615.76 368.65 L616.69 368.68 L617.61 368.71 L618.55 368.74 L619.49 368.77 L620.44 368.8 L621.39 368.83 L622.34 368.86 L623.31 368.89 L624.27 368.91 L625.25 368.94 L626.23 368.96 L627.21 368.98 L628.2 369.01 L629.2 369.03 L630.2 369.05 L631.21 369.07 L632.22 369.09 L633.24 369.11 L634.26 369.13 L635.29 369.15 L636.33 369.16 L637.37 369.18 L638.41 369.2 L639.47 369.21 L640.53 369.23 L641.59 369.24 L642.66 369.26 L643.73 369.27 L644.81 369.29 L645.9 369.3 L646.99 369.31 L648.09 369.33 L649.19 369.34 L650.3 369.35 L651.42 369.36 L652.54 369.37 L653.66 369.38 L654.79 369.39 L655.93 369.4 L657.08 369.41 L658.22 369.42 L659.38 369.43 L660.54 369.44 L661.71 369.45 L662.88 369.46 L664.06 369.47 L665.24 369.48 L666.43 369.48 L667.62 369.49 L668.82 369.5 L670.03 369.51 L671.24 369.51 L672.46 369.52 L673.68 369.53 L674.91 369.53 L676.15 369.54 L677.39 369.54 L678.64 369.55 L679.89 369.56 L681.15 369.56" fill="none" stroke="#ff00ff" stroke-width="3.15" stroke-linejoin="round"/>
<rect x="551.5" y="214.5" width="127" height="34" fill="#fff" stroke="#4d4d4d" stroke-width="1"/>
<circle cx="576.45" cy="223.9" r="3.8" fill="#000"/>
<path d="M555.85 239.4h41.4" stroke="#ff00ff" stroke-width="3.15" fill="none"/>
<text x="600.35" y="227.1" font-family='"Liberation Serif", serif' font-size="13.3" fill="#111" stroke="#111" stroke-width="0.1" textLength="70.2" lengthAdjust="spacingAndGlyphs">Yousefi <tspan font-style="italic">et al.</tspan></text>
<text x="600.35" y="242.1" font-family='"Liberation Serif", serif' font-size="13.3" fill="#111" stroke="#111" stroke-width="0.1" textLength="73.4" lengthAdjust="spacingAndGlyphs">Our model fit</text>
</g>
<g id="panel-g">
<rect x="47.12" y="412.2" width="178.1" height="178" fill="#fff" stroke="#262626" stroke-width="0.67"/>
<path d="M91.64 590.2v-2.3M91.64 412.2v2.3M136.17 590.2v-2.3M136.17 412.2v2.3M180.69 590.2v-2.3M180.69 412.2v2.3M47.12 554.6h2.3M225.22 554.6h-2.3M47.12 519h2.3M225.22 519h-2.3M47.12 483.4h2.3M225.22 483.4h-2.3M47.12 447.8h2.3M225.22 447.8h-2.3" stroke="#262626" stroke-width="0.67" fill="none"/>
<g font-family='"Liberation Serif", serif' font-size="13.9" fill="#111" stroke="#111" stroke-width="0.2">
<g text-anchor="middle">
<text x="47.12" y="607.8">0.5</text>
<text x="91.64" y="607.8">1</text>
<text x="136.17" y="607.8">1.5</text>
<text x="180.69" y="607.8">2</text>
<text x="225.22" y="607.8">2.5</text>
</g><g text-anchor="end">
<text x="41.62" y="594.2">0</text>
<text x="41.62" y="558.6">100</text>
<text x="41.62" y="523">200</text>
<text x="41.62" y="487.4">300</text>
<text x="41.62" y="451.8">400</text>
<text x="41.62" y="416.2">500</text>
</g></g>
<text x="58.42" y="425.9" text-anchor="middle" font-family='"Liberation Serif", serif' font-size="14.3" fill="#111" stroke="#111" stroke-width="0.15">(g)</text>
<g fill="#000">
<circle cx="69.29" cy="423.59" r="3.8"/>
<circle cx="74.1" cy="573.93" r="3.8"/>
<circle cx="75.88" cy="588.42" r="3.8"/>
<circle cx="79.45" cy="589.67" r="3.8"/>
<circle cx="82.74" cy="589.67" r="3.8"/>
<circle cx="84.7" cy="584.5" r="3.8"/>
<circle cx="86.57" cy="583.08" r="3.8"/>
<circle cx="89.51" cy="573.29" r="3.8"/>
<circle cx="91.2" cy="571.33" r="3.8"/>
<circle cx="93.78" cy="575.25" r="3.8"/>
<circle cx="96.45" cy="584.5" r="3.8"/>
<circle cx="99.04" cy="586.43" r="3.8"/>
<circle cx="102.33" cy="588.42" r="3.8"/>
<circle cx="105" cy="589.31" r="3.8"/>
<circle cx="107.67" cy="589.62" r="3.8"/>
<circle cx="110.35" cy="589.59" r="3.8"/>
<circle cx="113.02" cy="589.15" r="3.8"/>
<circle cx="115.69" cy="589.17" r="3.8"/>
<circle cx="118.36" cy="588.73" r="3.8"/>
<circle cx="121.03" cy="588.09" r="3.8"/>
<circle cx="123.7" cy="588.48" r="3.8"/>
<circle cx="126.37" cy="588.88" r="3.8"/>
<circle cx="129.05" cy="588.97" r="3.8"/>
<circle cx="131.72" cy="589.52" r="3.8"/>
<circle cx="134.39" cy="589.61" r="3.8"/>
<circle cx="137.06" cy="589.31" r="3.8"/>
<circle cx="139.73" cy="589.63" r="3.8"/>
<circle cx="142.4" cy="589.63" r="3.8"/>
<circle cx="145.07" cy="589.31" r="3.8"/>
<circle cx="147.75" cy="589.63" r="3.8"/>
<circle cx="150.42" cy="589.63" r="3.8"/>
<circle cx="153.09" cy="589.31" r="3.8"/>
<circle cx="155.76" cy="589.63" r="3.8"/>
<circle cx="158.43" cy="589.63" r="3.8"/>
<circle cx="161.1" cy="589.31" r="3.8"/>
<circle cx="163.78" cy="589.63" r="3.8"/>
<circle cx="166.45" cy="589.63" r="3.8"/>
<circle cx="169.12" cy="589.31" r="3.8"/>
<circle cx="171.79" cy="589.63" r="3.8"/>
<circle cx="180.69" cy="589.35" r="3.8"/>
</g>
<path d="M69.38 423.25 L69.38 423.3 L69.39 423.49 L69.39 423.85 L69.4 424.38 L69.4 425.1 L69.41 426.01 L69.43 427.11 L69.44 428.41 L69.46 429.9 L69.48 431.59 L69.51 433.47 L69.53 435.55 L69.56 437.81 L69.59 440.25 L69.63 442.86 L69.66 445.63 L69.7 448.57 L69.75 451.65 L69.79 454.86 L69.84 458.2 L69.89 461.65 L69.95 465.21 L70 468.85 L70.07 472.57 L70.13 476.36 L70.2 480.19 L70.27 484.07 L70.34 487.97 L70.42 491.88 L70.5 495.8 L70.58 499.7 L70.67 503.58 L70.76 507.43 L70.85 511.24 L70.95 514.99 L71.05 518.67 L71.15 522.29 L71.26 525.83 L71.37 529.28 L71.48 532.64 L71.6 535.9 L71.72 539.06 L71.85 542.11 L71.97 545.06 L72.11 547.89 L72.24 550.6 L72.38 553.2 L72.52 555.68 L72.67 558.05 L72.82 560.3 L72.97 562.44 L73.13 564.46 L73.29 566.37 L73.45 568.17 L73.62 569.87 L73.79 571.46 L73.96 572.95 L74.14 574.35 L74.32 575.65 L74.51 576.87 L74.7 578 L74.89 579.04 L75.09 580.01 L75.29 580.91 L75.5 581.74 L75.71 582.5 L75.92 583.2 L76.14 583.84 L76.36 584.43 L76.58 584.97 L76.81 585.46 L77.04 585.91 L77.28 586.32 L77.52 586.69 L77.76 587.02 L78.01 587.32 L78.26 587.6 L78.52 587.84 L78.78 588.07 L79.04 588.27 L79.31 588.45 L79.58 588.61 L79.85 588.75 L80.13 588.88 L80.42 588.99 L80.71 589.09 L81 589.18 L81.29 589.26 L81.59 589.34 L81.9 589.4 L82.2 589.45 L82.52 589.5 L82.83 589.55 L83.15 589.59 L83.48 589.62 L83.81 589.65 L84.14 589.67 L84.47 589.7 L84.82 589.72 L85.16 589.73 L85.51 589.75 L85.86 589.76 L86.22 589.77 L86.58 589.78 L86.95 589.79 L87.32 589.8 L87.69 589.8 L88.07 589.81 L88.45 589.82 L88.84 589.82 L89.23 589.82 L89.63 589.83 L90.03 589.83 L90.43 589.83 L90.84 589.83 L91.25 589.83 L91.67 589.84 L92.09 589.84 L92.52 589.84 L92.95 589.84 L93.38 589.84 L93.82 589.84 L94.26 589.84 L94.71 589.84 L95.16 589.84 L95.62 589.84 L96.08 589.84 L96.54 589.84 L97.01 589.84 L97.48 589.84 L97.96 589.84 L98.44 589.84 L98.93 589.84 L99.42 589.84 L99.92 589.84 L100.42 589.84 L100.92 589.84 L101.43 589.84 L101.94 589.84 L102.46 589.84 L102.98 589.84 L103.51 589.84 L104.04 589.84 L104.58 589.84 L105.12 589.84 L105.66 589.84 L106.21 589.84 L106.76 589.84 L107.32 589.84 L107.88 589.84 L108.45 589.84 L109.02 589.84 L109.6 589.84 L110.18 589.84 L110.76 589.84 L111.35 589.84 L111.95 589.84 L112.54 589.84 L113.15 589.84 L113.76 589.84 L114.37 589.84 L114.99 589.84 L115.61 589.84 L116.23 589.84 L116.86 589.84 L117.5 589.84 L118.14 589.84 L118.78 589.84 L119.43 589.84 L120.09 589.84 L120.75 589.84 L121.41 589.84 L122.08 589.84 L122.75 589.84 L123.43 589.84 L124.11 589.84 L124.79 589.84 L125.49 589.84 L126.18 589.84 L126.88 589.84 L127.59 589.84 L128.3 589.84 L129.01 589.84 L129.73 589.84 L130.45 589.84 L131.18 589.84 L131.92 589.84 L132.65 589.84 L133.4 589.84 L134.14 589.84 L134.9 589.84 L135.65 589.84 L136.42 589.84 L137.18 589.84 L137.95 589.84 L138.73 589.84 L139.51 589.84 L140.3 589.84 L141.09 589.84 L141.88 589.84 L142.68 589.84 L143.49 589.84 L144.29 589.84 L145.11 589.84 L145.93 589.84 L146.75 589.84 L147.58 589.84 L148.41 589.84 L149.25 589.84 L150.1 589.84 L150.94 589.84 L151.8 589.84 L152.65 589.84 L153.52 589.84 L154.38 589.84 L155.26 589.84 L156.13 589.84 L157.01 589.84 L157.9 589.84 L158.79 589.84 L159.69 589.84 L160.59 589.84 L161.5 589.84 L162.41 589.84 L163.32 589.84 L164.25 589.84 L165.17 589.84 L166.1 589.84 L167.04 589.84 L167.98 589.84 L168.92 589.84 L169.88 589.84 L170.83 589.84 L171.79 589.84 L172.76 589.84 L173.73 589.84 L174.7 589.84 L175.68 589.84 L176.67 589.84 L177.66 589.84 L178.65 589.84 L179.65 589.84 L180.66 589.84 L181.67 589.84 L182.68 589.84 L183.7 589.84 L184.73 589.84 L185.76 589.84 L186.79 589.84 L187.83 589.84 L188.88 589.84 L189.93 589.84 L190.98 589.84 L192.04 589.84 L193.11 589.84 L194.17 589.84 L195.25 589.84 L196.33 589.84 L197.41 589.84 L198.51 589.84" fill="none" stroke="#ff00ff" stroke-width="3.15" stroke-linejoin="round"/>
<rect x="78" y="417" width="144.8" height="34.5" fill="#fff" stroke="#4d4d4d" stroke-width="1"/>
<circle cx="102.6" cy="426.4" r="3.8" fill="#000"/>
<path d="M82 441.9h41.4" stroke="#ff00ff" stroke-width="3.15" fill="none"/>
<text x="126.5" y="429.6" font-family='"Liberation Serif", serif' font-size="13.3" fill="#111" stroke="#111" stroke-width="0.1" textLength="92.1" lengthAdjust="spacingAndGlyphs">Neek-Amal <tspan font-style="italic">et al.</tspan></text>
<text x="126.5" y="444.6" font-family='"Liberation Serif", serif' font-size="13.3" fill="#111" stroke="#111" stroke-width="0.1" textLength="73.4" lengthAdjust="spacingAndGlyphs">Our model fit</text>
<g transform="translate(10.92 515.8) rotate(-90)" font-family='"Liberation Serif", serif' font-style="italic" fill="#111" stroke="#111" stroke-width="0.2"><text x="0" y="0" font-size="15.0">η</text><text x="8.6" y="3.6" font-size="21" font-style="normal" stroke-width="0">/</text><text x="15.2" y="0" font-size="15.0">η</text><text x="22.9" y="2.5" font-size="10.5">o</text></g>
<text x="136.17" y="625.6" text-anchor="middle" font-family='"Liberation Serif", serif' font-style="italic" font-size="15.0" fill="#111" stroke="#111" stroke-width="0.2" textLength="45.6" lengthAdjust="spacingAndGlyphs">H(nm)</text>
</g>
<g id="panel-h">
<rect x="274.8" y="412.2" width="177.9" height="178" fill="#fff" stroke="#262626" stroke-width="0.67"/>
<path d="M319.28 590.2v-2.3M319.28 412.2v2.3M363.75 590.2v-2.3M363.75 412.2v2.3M408.23 590.2v-2.3M408.23 412.2v2.3M274.8 560.53h2.3M452.7 560.53h-2.3M274.8 530.87h2.3M452.7 530.87h-2.3M274.8 501.2h2.3M452.7 501.2h-2.3M274.8 471.53h2.3M452.7 471.53h-2.3M274.8 441.87h2.3M452.7 441.87h-2.3" stroke="#262626" stroke-width="0.67" fill="none"/>
<g font-family='"Liberation Serif", serif' font-size="13.9" fill="#111" stroke="#111" stroke-width="0.2">
<g text-anchor="middle">
<text x="274.8" y="607.8">0.5</text>
<text x="319.28" y="607.8">1</text>
<text x="363.75" y="607.8">1.5</text>
<text x="408.23" y="607.8">2</text>
<text x="452.7" y="607.8">2.5</text>
</g><g text-anchor="end">
<text x="269.3" y="594.2">0</text>
<text x="269.3" y="564.53">100</text>
<text x="269.3" y="534.87">200</text>
<text x="269.3" y="505.2">300</text>
<text x="269.3" y="475.53">400</text>
<text x="269.3" y="445.87">500</text>
<text x="269.3" y="416.2">600</text>
</g></g>
<text x="286.1" y="425.9" text-anchor="middle" font-family='"Liberation Serif", serif' font-size="14.3" fill="#111" stroke="#111" stroke-width="0.15">(h)</text>
<g fill="#000">
<circle cx="290.54" cy="451.36" r="3.8"/>
<circle cx="297.7" cy="479.37" r="3.8"/>
<circle cx="302.2" cy="515.53" r="3.8"/>
<circle cx="306.11" cy="574.03" r="3.8"/>
<circle cx="310.56" cy="588" r="3.8"/>
<circle cx="315.27" cy="589.61" r="3.8"/>
<circle cx="319.54" cy="577.21" r="3.8"/>
<circle cx="323.54" cy="548.82" r="3.8"/>
<circle cx="326.21" cy="546" r="3.8"/>
<circle cx="328.61" cy="551.99" r="3.8"/>
<circle cx="332.97" cy="575.31" r="3.8"/>
<circle cx="336.98" cy="586.91" r="3.8"/>
<circle cx="341.33" cy="589.61" r="3.8"/>
<circle cx="345.6" cy="583.97" r="3.8"/>
<circle cx="350.05" cy="579.31" r="3.8"/>
<circle cx="352.81" cy="578.81" r="3.8"/>
<circle cx="355.21" cy="578.81" r="3.8"/>
<circle cx="359.84" cy="582.4" r="3.8"/>
<circle cx="363.04" cy="589.61" r="3.8"/>
<circle cx="365.97" cy="589.46" r="3.8"/>
<circle cx="368.2" cy="589.44" r="3.8"/>
<circle cx="370.42" cy="589.33" r="3.8"/>
<circle cx="372.64" cy="588.93" r="3.8"/>
<circle cx="374.87" cy="587.9" r="3.8"/>
<circle cx="377.09" cy="586.22" r="3.8"/>
<circle cx="379.32" cy="584.72" r="3.8"/>
<circle cx="381.54" cy="584.55" r="3.8"/>
<circle cx="383.76" cy="585.87" r="3.8"/>
<circle cx="385.99" cy="587.6" r="3.8"/>
<circle cx="388.21" cy="588.78" r="3.8"/>
<circle cx="390.44" cy="589.28" r="3.8"/>
<circle cx="392.66" cy="589.43" r="3.8"/>
<circle cx="394.88" cy="589.45" r="3.8"/>
<circle cx="397.11" cy="589.46" r="3.8"/>
<circle cx="399.33" cy="589.46" r="3.8"/>
<circle cx="401.55" cy="589.46" r="3.8"/>
<circle cx="403.78" cy="589.46" r="3.8"/>
<circle cx="406" cy="589.46" r="3.8"/>
<circle cx="408.23" cy="589.46" r="3.8"/>
<circle cx="417.12" cy="589.61" r="3.8"/>
</g>
<path d="M290.1 440.7 L290.1 440.71 L290.1 440.73 L290.11 440.79 L290.11 440.86 L290.12 440.97 L290.13 441.1 L290.14 441.26 L290.16 441.46 L290.18 441.68 L290.2 441.93 L290.22 442.22 L290.25 442.54 L290.27 442.89 L290.3 443.27 L290.34 443.69 L290.37 444.14 L290.41 444.62 L290.46 445.14 L290.5 445.68 L290.55 446.27 L290.6 446.88 L290.65 447.53 L290.71 448.21 L290.77 448.92 L290.83 449.67 L290.9 450.44 L290.97 451.25 L291.04 452.09 L291.12 452.95 L291.2 453.85 L291.28 454.78 L291.36 455.73 L291.45 456.71 L291.55 457.72 L291.64 458.76 L291.74 459.82 L291.84 460.91 L291.95 462.02 L292.05 463.15 L292.17 464.31 L292.28 465.49 L292.4 466.69 L292.52 467.91 L292.65 469.15 L292.78 470.41 L292.91 471.69 L293.05 472.98 L293.19 474.29 L293.33 475.61 L293.48 476.95 L293.63 478.3 L293.78 479.66 L293.94 481.03 L294.1 482.42 L294.27 483.81 L294.43 485.21 L294.61 486.62 L294.78 488.03 L294.96 489.45 L295.14 490.87 L295.33 492.3 L295.52 493.73 L295.72 495.16 L295.91 496.59 L296.12 498.03 L296.32 499.46 L296.53 500.89 L296.74 502.32 L296.96 503.75 L297.18 505.17 L297.41 506.59 L297.63 508 L297.87 509.41 L298.1 510.81 L298.34 512.2 L298.59 513.58 L298.83 514.96 L299.08 516.33 L299.34 517.69 L299.6 519.03 L299.86 520.37 L300.13 521.7 L300.4 523.01 L300.68 524.31 L300.96 525.6 L301.24 526.88 L301.52 528.14 L301.82 529.39 L302.11 530.62 L302.41 531.85 L302.71 533.05 L303.02 534.24 L303.33 535.42 L303.65 536.58 L303.96 537.73 L304.29 538.86 L304.61 539.97 L304.95 541.07 L305.28 542.15 L305.62 543.22 L305.96 544.26 L306.31 545.3 L306.66 546.31 L307.02 547.31 L307.38 548.3 L307.74 549.26 L308.11 550.21 L308.48 551.15 L308.86 552.06 L309.24 552.96 L309.63 553.85 L310.02 554.71 L310.41 555.57 L310.81 556.4 L311.21 557.22 L311.61 558.02 L312.02 558.81 L312.44 559.58 L312.86 560.34 L313.28 561.08 L313.71 561.8 L314.14 562.51 L314.57 563.21 L315.01 563.89 L315.46 564.55 L315.91 565.2 L316.36 565.84 L316.82 566.46 L317.28 567.07 L317.74 567.66 L318.21 568.25 L318.69 568.81 L319.17 569.37 L319.65 569.91 L320.14 570.44 L320.63 570.96 L321.12 571.46 L321.63 571.96 L322.13 572.44 L322.64 572.91 L323.15 573.36 L323.67 573.81 L324.19 574.25 L324.72 574.67 L325.25 575.09 L325.79 575.49 L326.33 575.88 L326.87 576.27 L327.42 576.64 L327.97 577.01 L328.53 577.36 L329.09 577.71 L329.66 578.04 L330.23 578.37 L330.81 578.69 L331.39 579 L331.97 579.31 L332.56 579.6 L333.15 579.89 L333.75 580.17 L334.35 580.44 L334.96 580.71 L335.57 580.96 L336.19 581.22 L336.81 581.46 L337.43 581.7 L338.06 581.93 L338.7 582.15 L339.34 582.37 L339.98 582.58 L340.63 582.79 L341.28 582.99 L341.94 583.19 L342.6 583.38 L343.26 583.56 L343.93 583.74 L344.61 583.92 L345.29 584.09 L345.97 584.25 L346.66 584.41 L347.36 584.57 L348.05 584.72 L348.76 584.87 L349.46 585.01 L350.18 585.15 L350.89 585.28 L351.61 585.41 L352.34 585.54 L353.07 585.67 L353.81 585.79 L354.55 585.9 L355.29 586.02 L356.04 586.13 L356.79 586.23 L357.55 586.34 L358.32 586.44 L359.09 586.54 L359.86 586.63 L360.64 586.73 L361.42 586.82 L362.2 586.9 L363 586.99 L363.79 587.07 L364.59 587.15 L365.4 587.23 L366.21 587.3 L367.02 587.38 L367.84 587.45 L368.67 587.52 L369.5 587.59 L370.33 587.65 L371.17 587.71 L372.02 587.78 L372.86 587.84 L373.72 587.89 L374.57 587.95 L375.44 588.01 L376.31 588.06 L377.18 588.11 L378.05 588.16 L378.94 588.21 L379.82 588.26 L380.72 588.3 L381.61 588.35 L382.51 588.39 L383.42 588.43 L384.33 588.47 L385.25 588.51 L386.17 588.55 L387.09 588.59 L388.02 588.63 L388.96 588.66 L389.9 588.69 L390.84 588.73 L391.79 588.76 L392.74 588.79 L393.7 588.82 L394.67 588.85 L395.64 588.88 L396.61 588.91 L397.59 588.94 L398.57 588.96 L399.56 588.99 L400.56 589.01 L401.55 589.04 L402.56 589.06 L403.57 589.08 L404.58 589.11 L405.6 589.13 L406.62 589.15 L407.65 589.17 L408.68 589.19 L409.72 589.21 L410.76 589.23 L411.81 589.24 L412.86 589.26 L413.92 589.28 L414.98 589.3 L416.05 589.31 L417.12 589.33" fill="none" stroke="#ff00ff" stroke-width="3.15" stroke-linejoin="round"/>
<rect x="299.5" y="417" width="129" height="34.5" fill="#fff" stroke="#4d4d4d" stroke-width="1"/>
<circle cx="324.3" cy="426.4" r="3.8" fill="#000"/>
<path d="M303.7 441.9h41.4" stroke="#ff00ff" stroke-width="3.15" fill="none"/>
<text x="348.2" y="429.6" font-family='"Liberation Serif", serif' font-size="13.3" fill="#111" stroke="#111" stroke-width="0.1" textLength="76.2" lengthAdjust="spacingAndGlyphs">Jahromi <tspan font-style="italic">et al.</tspan></text>
<text x="348.2" y="444.6" font-family='"Liberation Serif", serif' font-size="13.3" fill="#111" stroke="#111" stroke-width="0.1" textLength="73.4" lengthAdjust="spacingAndGlyphs">Our model fit</text>
<text x="363.75" y="625.6" text-anchor="middle" font-family='"Liberation Serif", serif' font-style="italic" font-size="15.0" fill="#111" stroke="#111" stroke-width="0.2" textLength="45.6" lengthAdjust="spacingAndGlyphs">H(nm)</text>
</g>
<g id="panel-i">
<rect x="502.4" y="412.2" width="178.75" height="178" fill="#fff" stroke="#262626" stroke-width="0.67"/>
<path d="M506.37 590.2v-2.3M506.37 412.2v2.3M546.09 590.2v-2.3M546.09 412.2v2.3M585.82 590.2v-2.3M585.82 412.2v2.3M625.54 590.2v-2.3M625.54 412.2v2.3M665.26 590.2v-2.3M665.26 412.2v2.3M502.4 564.39h2.3M681.15 564.39h-2.3M502.4 538.96h2.3M681.15 538.96h-2.3M502.4 513.53h2.3M681.15 513.53h-2.3M502.4 488.1h2.3M681.15 488.1h-2.3M502.4 462.68h2.3M681.15 462.68h-2.3M502.4 437.25h2.3M681.15 437.25h-2.3" stroke="#262626" stroke-width="0.67" fill="none"/>
<g font-family='"Liberation Serif", serif' font-size="13.9" fill="#111" stroke="#111" stroke-width="0.2">
<g text-anchor="middle">
<text x="506.37" y="607.8">0</text>
<text x="546.09" y="607.8">5</text>
<text x="585.82" y="607.8">10</text>
<text x="625.54" y="607.8">15</text>
<text x="665.26" y="607.8">20</text>
</g><g text-anchor="end">
<text x="496.9" y="593.82">1</text>
<text x="496.9" y="568.39">1.2</text>
<text x="496.9" y="542.96">1.4</text>
<text x="496.9" y="517.53">1.6</text>
<text x="496.9" y="492.1">1.8</text>
<text x="496.9" y="466.68">2</text>
<text x="496.9" y="441.25">2.2</text>
</g></g>
<text x="513.7" y="425.9" text-anchor="middle" font-family='"Liberation Serif", serif' font-size="14.3" fill="#111" stroke="#111" stroke-width="0.15">(i)</text>
<g fill="#000">
<circle cx="513.2" cy="462.68" r="3.8"/>
<circle cx="518.05" cy="558.03" r="3.8"/>
<circle cx="527.42" cy="588.17" r="3.8"/>
<circle cx="556.34" cy="589.82" r="3.8"/>
<circle cx="641.83" cy="589.82" r="3.8"/>
</g>
<path d="M513.2 454.81 L513.2 454.85 L513.2 455 L513.21 455.27 L513.22 455.67 L513.23 456.21 L513.24 456.89 L513.25 457.72 L513.27 458.69 L513.29 459.81 L513.32 461.07 L513.35 462.48 L513.38 464.02 L513.41 465.69 L513.45 467.5 L513.49 469.42 L513.53 471.46 L513.58 473.6 L513.63 475.84 L513.68 478.17 L513.74 480.59 L513.8 483.07 L513.86 485.62 L513.93 488.23 L514 490.87 L514.08 493.56 L514.16 496.27 L514.24 499 L514.33 501.73 L514.42 504.47 L514.51 507.21 L514.61 509.93 L514.72 512.63 L514.82 515.3 L514.93 517.95 L515.05 520.55 L515.16 523.11 L515.29 525.63 L515.41 528.09 L515.54 530.5 L515.68 532.86 L515.81 535.15 L515.96 537.39 L516.1 539.56 L516.25 541.67 L516.41 543.71 L516.57 545.69 L516.73 547.6 L516.9 549.45 L517.07 551.23 L517.24 552.94 L517.42 554.59 L517.61 556.18 L517.8 557.71 L517.99 559.18 L518.19 560.58 L518.39 561.93 L518.6 563.22 L518.81 564.46 L519.02 565.64 L519.24 566.77 L519.46 567.86 L519.69 568.89 L519.92 569.88 L520.16 570.82 L520.4 571.72 L520.65 572.57 L520.9 573.39 L521.15 574.17 L521.41 574.91 L521.68 575.62 L521.95 576.29 L522.22 576.93 L522.5 577.54 L522.78 578.12 L523.07 578.68 L523.36 579.2 L523.66 579.7 L523.96 580.18 L524.26 580.63 L524.57 581.06 L524.89 581.47 L525.21 581.86 L525.53 582.23 L525.86 582.58 L526.2 582.92 L526.53 583.24 L526.88 583.54 L527.23 583.83 L527.58 584.1 L527.94 584.36 L528.3 584.61 L528.67 584.85 L529.04 585.07 L529.42 585.28 L529.8 585.49 L530.19 585.68 L530.58 585.87 L530.97 586.04 L531.38 586.21 L531.78 586.37 L532.19 586.52 L532.61 586.66 L533.03 586.8 L533.46 586.93 L533.89 587.05 L534.32 587.17 L534.76 587.29 L535.21 587.39 L535.66 587.5 L536.12 587.59 L536.58 587.69 L537.04 587.78 L537.51 587.86 L537.99 587.94 L538.47 588.02 L538.96 588.09 L539.45 588.16 L539.94 588.23 L540.44 588.3 L540.95 588.36 L541.46 588.42 L541.98 588.47 L542.5 588.53 L543.03 588.58 L543.56 588.63 L544.1 588.67 L544.64 588.72 L545.18 588.76 L545.74 588.8 L546.29 588.84 L546.86 588.88 L547.43 588.91 L548 588.95 L548.58 588.98 L549.16 589.01 L549.75 589.04 L550.34 589.07 L550.94 589.1 L551.55 589.13 L552.15 589.15 L552.77 589.18 L553.39 589.2 L554.01 589.22 L554.65 589.24 L555.28 589.26 L555.92 589.28 L556.57 589.3 L557.22 589.32 L557.88 589.34 L558.54 589.35 L559.21 589.37 L559.88 589.39 L560.56 589.4 L561.24 589.42 L561.93 589.43 L562.63 589.44 L563.33 589.46 L564.03 589.47 L564.74 589.48 L565.46 589.49 L566.18 589.5 L566.9 589.51 L567.64 589.52 L568.37 589.53 L569.12 589.54 L569.87 589.55 L570.62 589.56 L571.38 589.57 L572.14 589.58 L572.91 589.58 L573.69 589.59 L574.47 589.6 L575.26 589.6 L576.05 589.61 L576.84 589.62 L577.65 589.62 L578.46 589.63 L579.27 589.64 L580.09 589.64 L580.91 589.65 L581.74 589.65 L582.58 589.66 L583.42 589.66 L584.27 589.67 L585.12 589.67 L585.98 589.68 L586.84 589.68 L587.71 589.68 L588.59 589.69 L589.47 589.69 L590.35 589.7 L591.24 589.7 L592.14 589.7 L593.04 589.71 L593.95 589.71 L594.87 589.71 L595.79 589.72 L596.71 589.72 L597.64 589.72 L598.58 589.72 L599.52 589.73 L600.47 589.73 L601.42 589.73 L602.38 589.73 L603.34 589.74 L604.31 589.74 L605.29 589.74 L606.27 589.74 L607.26 589.74 L608.25 589.75 L609.25 589.75 L610.25 589.75 L611.26 589.75 L612.28 589.75 L613.3 589.76 L614.33 589.76 L615.36 589.76 L616.4 589.76 L617.44 589.76 L618.49 589.76 L619.55 589.77 L620.61 589.77 L621.68 589.77 L622.75 589.77 L623.83 589.77 L624.92 589.77 L626.01 589.77 L627.1 589.77 L628.2 589.78 L629.31 589.78 L630.43 589.78 L631.55 589.78 L632.67 589.78 L633.8 589.78 L634.94 589.78 L636.08 589.78 L637.23 589.78 L638.38 589.78 L639.54 589.78 L640.71 589.79 L641.88 589.79 L643.06 589.79 L644.24 589.79 L645.43 589.79 L646.63 589.79 L647.83 589.79 L649.03 589.79 L650.25 589.79 L651.47 589.79 L652.69 589.79 L653.92 589.79 L655.16 589.79 L656.4 589.79 L657.65 589.79 L658.9 589.8 L660.16 589.8 L661.43 589.8 L662.7 589.8 L663.98 589.8 L665.26 589.8" fill="none" stroke="#ff00ff" stroke-width="3.15" stroke-linejoin="round"/>
<rect x="528.5" y="417" width="126.3" height="34.5" fill="#fff" stroke="#4d4d4d" stroke-width="1"/>
<circle cx="552.8" cy="426.4" r="3.8" fill="#000"/>
<path d="M532.2 441.9h41.4" stroke="#ff00ff" stroke-width="3.15" fill="none"/>
<text x="604.5" y="426.3" font-family='"DejaVu Sans", "Liberation Sans", sans-serif' font-size="9.8" fill="#111" text-anchor="middle" textLength="78.6" lengthAdjust="spacingAndGlyphs">Giannakopoulos</text>
<text x="598.3" y="433.1" font-family='"DejaVu Sans", "Liberation Sans", sans-serif' font-size="9.8" fill="#111" text-anchor="middle" textLength="24" lengthAdjust="spacingAndGlyphs">et al.</text>
<text x="576.7" y="444.6" font-family='"Liberation Serif", serif' font-size="13.3" fill="#111" stroke="#111" stroke-width="0.1" textLength="73.4" lengthAdjust="spacingAndGlyphs">Our model fit</text>
<text x="591.77" y="625.6" text-anchor="middle" font-family='"Liberation Serif", serif' font-style="italic" font-size="15.0" fill="#111" stroke="#111" stroke-width="0.2" textLength="45.6" lengthAdjust="spacingAndGlyphs">H(nm)</text>
</g>
</svg>
</body>
</html>
